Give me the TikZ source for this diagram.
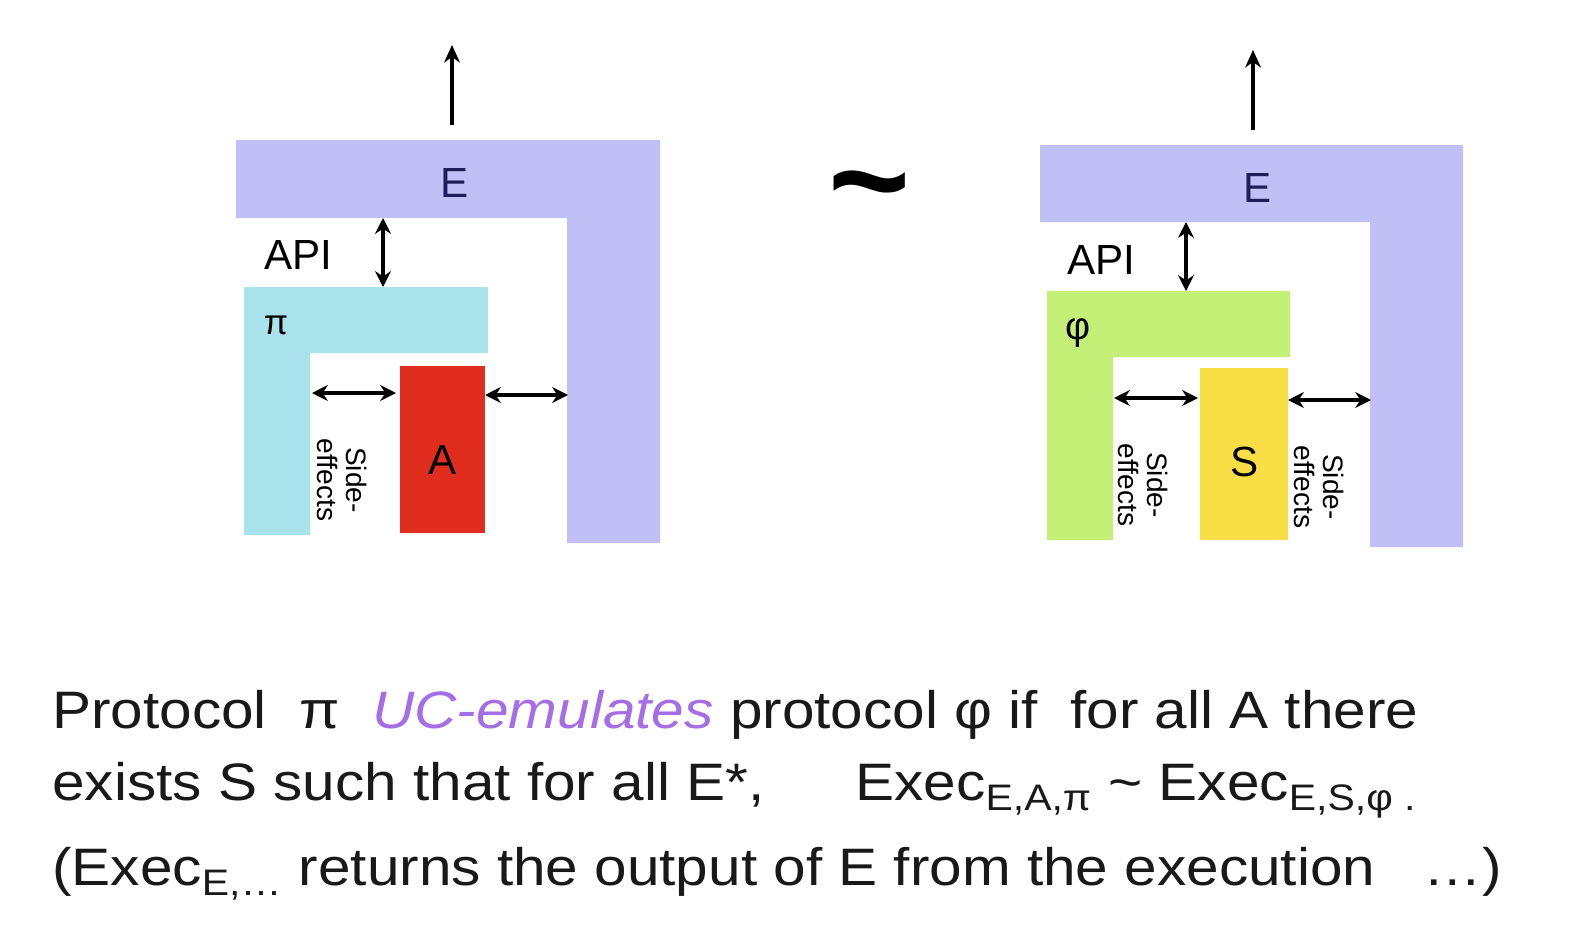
\documentclass[tikz,border=0pt]{standalone}
\usepackage{fontspec}
\usetikzlibrary{arrows.meta}
\setmainfont{Liberation Sans}
\definecolor{lavc}{RGB}{192,192,246}
\definecolor{cyanc}{RGB}{170,226,236}
\definecolor{greenc}{RGB}{196,240,120}
\definecolor{redc}{RGB}{225,45,30}
\definecolor{yelc}{RGB}{250,222,70}
\definecolor{txtc}{RGB}{25,25,25}
\definecolor{purc}{RGB}{165,110,230}
\definecolor{navy}{RGB}{30,30,90}
\begin{document}
\begin{tikzpicture}[x=0.02cm,y=-0.02cm,
  arr/.style={{Stealth[length=9pt,width=9pt]}-{Stealth[length=9pt,width=9pt]},line width=2.6pt},
  uarr/.style={-{Stealth[length=10pt,width=9pt]},line width=2.6pt},
  lbl/.style={font=\fontsize{24}{26}\selectfont},
  side/.style={font=\fontsize{16}{17}\selectfont,rotate=-90,align=center},
  txt/.style={anchor=base west,inner sep=0,font=\fontsize{30}{32}\selectfont,text=txtc}]
\useasboundingbox (0,0) rectangle (1576,940);
% left
\fill[lavc] (236,140) -- (660,140) -- (660,543) -- (567,543) -- (567,218) -- (236,218) -- cycle;
\fill[cyanc] (244,287) -- (488,287) -- (488,353) -- (310,353) -- (310,535) -- (244,535) -- cycle;
\fill[redc] (400,366) rectangle (485,533);
\node[lbl] (Alab) at (443,460) {A};
\node[lbl,text=navy] (E1) at (455,183) {E};
\node[lbl] (api1) at (298,255) {API};
\node[font=\fontsize{20}{22}\selectfont] (pi1) at (276,325) {π};
\coordinate (e1b) at (383,218); \coordinate (p1t) at (383,287);
\draw[arr] (e1b) -- (p1t);
\coordinate (u1a) at (452,125); \coordinate (u1b) at (452,45);
\draw[uarr] (u1a) -- (u1b);
\coordinate (h1a) at (312,393); \coordinate (h1b) at (396,393);
\draw[arr] (h1a) -- (h1b);
\coordinate (h2a) at (485,395); \coordinate (h2b) at (568,395);
\draw[arr] (h2a) -- (h2b);
\node[side] (se1) at (342,480) {Side-\\effects};
% tilde
\node[font=\fontsize{80}{80}\selectfont\bfseries] (tl) at (870,200) {\textasciitilde};
% right
\fill[lavc] (1040,145) -- (1463,145) -- (1463,547) -- (1370,547) -- (1370,222) -- (1040,222) -- cycle;
\fill[greenc] (1047,291) -- (1290,291) -- (1290,357) -- (1113,357) -- (1113,540) -- (1047,540) -- cycle;
\fill[yelc] (1200,368) rectangle (1288,540);
\node[lbl] (Slab) at (1245,462) {S};
\node[lbl,text=navy] (E2) at (1258,188) {E};
\node[lbl] (api2) at (1101,260) {API};
\node[font=\fontsize{22}{24}\selectfont] (phi2) at (1078,333) {φ};
\coordinate (e2b) at (1186,222); \coordinate (p2t) at (1186,291);
\draw[arr] (e2b) -- (p2t);
\coordinate (u2a) at (1253,130); \coordinate (u2b) at (1253,50);
\draw[uarr] (u2a) -- (u2b);
\coordinate (h3a) at (1114,398); \coordinate (h3b) at (1198,398);
\draw[arr] (h3a) -- (h3b);
\coordinate (h4a) at (1288,400); \coordinate (h4b) at (1371,400);
\draw[arr] (h4a) -- (h4b);
\node[side] (se2) at (1143,485) {Side-\\effects};
\node[side] (se3) at (1319,487) {Side-\\effects};
% text
\node[txt] (l1) at (52,728) {\scalebox{1.11}[1]{Protocol\ \ π\ \ \textcolor{purc}{\textit{UC-emulates}} protocol φ if\ \ for all A there}};
\node[txt] (l2) at (52,800) {\scalebox{1.11}[1]{exists S such that for all E*,\quad\ \ Exec\textsubscript{E,A,π} \textasciitilde\ Exec\textsubscript{E,S,φ .}}};
\node[txt] (l3) at (52,885) {\scalebox{1.11}[1]{(Exec\textsubscript{E,…} returns the output of E from the execution\ \ \ …)}};
\end{tikzpicture}
\end{document}
